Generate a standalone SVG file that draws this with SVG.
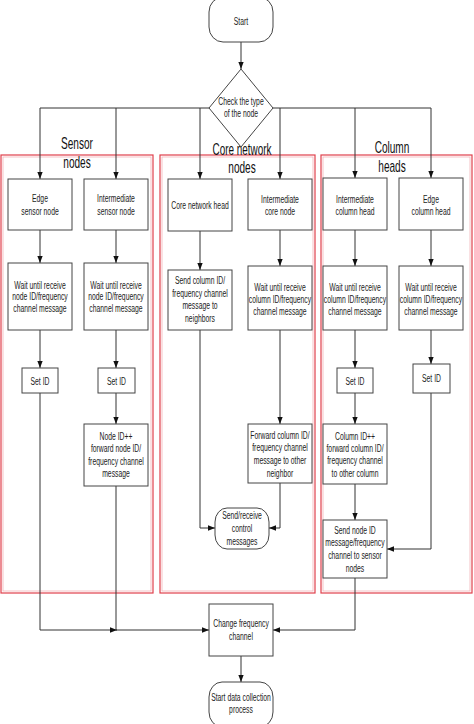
<svg xmlns="http://www.w3.org/2000/svg" width="474" height="724" viewBox="0 0 474 724">
<defs>
<marker id="ah" viewBox="0 0 10 10" refX="10" refY="5" markerWidth="7" markerHeight="7" markerUnits="userSpaceOnUse" orient="auto"><path d="M0,1.2 L10,5 L0,8.8 z" fill="#111"/></marker>
</defs>
<style>
.bg{fill:#fff}
.c{fill:none;stroke:#333;stroke-width:1}
.a{marker-end:url(#ah)}
.b{fill:#fff;stroke:#444;stroke-width:1}
.r{fill:none;stroke:#e0404c;stroke-width:1.2}
.r2{fill:none;stroke:#f3b3b8;stroke-width:0.8}
.t{font-family:"Liberation Sans",Arial,sans-serif;font-size:10px;text-anchor:middle;fill:#222}
.h{font-family:"Liberation Sans",Arial,sans-serif;font-size:16px;text-anchor:middle;fill:#111}
</style>
<rect class="bg" width="474" height="724"/>
<g id="groups">
<rect class="r" x="1" y="155" width="152" height="438"/>
<rect class="r2" x="3" y="157" width="148" height="434"/>
<rect class="r" x="160" y="155" width="155" height="438"/>
<rect class="r2" x="162" y="157" width="151" height="434"/>
<rect class="r" x="321" y="155" width="151" height="438"/>
<rect class="r2" x="323" y="157" width="147" height="434"/>
</g>
<g id="connectors">
<path class="c a" d="M241,42 V69"/>
<path class="c" d="M40,108 H431"/>
<path class="c a" d="M40,108 V179"/>
<path class="c a" d="M116,108 V179"/>
<path class="c a" d="M200,108 V179"/>
<path class="c a" d="M280,108 V179"/>
<path class="c a" d="M355,108 V178"/>
<path class="c a" d="M431,108 V178"/>
<path class="c a" d="M40,230 V263"/>
<path class="c a" d="M116,230 V263"/>
<path class="c a" d="M200,231 V270"/>
<path class="c a" d="M280,230 V266"/>
<path class="c a" d="M355,230 V266"/>
<path class="c a" d="M431,230 V266"/>
<path class="c a" d="M40,330 V368"/>
<path class="c a" d="M116,330 V368"/>
<path class="c a" d="M355,330 V368"/>
<path class="c a" d="M431,330 V364"/>
<path class="c a" d="M116,393 V424"/>
<path class="c a" d="M280,330 V424"/>
<path class="c a" d="M355,393 V424"/>
<path class="c a" d="M355,484 V520"/>
<path class="c a" d="M200,330 V528 H215"/>
<path class="c a" d="M280,483 V528 H269"/>
<path class="c a" d="M431,393 V549 H387"/>
<path class="c a" d="M40,393 V630 H117"/>
<path class="c a" d="M116,486 V630 H209"/>
<path class="c a" d="M355,578 V630 H273"/>
<path class="c a" d="M241,656 V682"/>
</g>
<g id="titles">
<text class="h" transform="translate(77,149) scale(0.63,1)">Sensor</text>
<text class="h" transform="translate(77,168) scale(0.63,1)">nodes</text>
<text class="h" transform="translate(242,155) scale(0.62,1)">Core network</text>
<text class="h" transform="translate(242,173) scale(0.63,1)">nodes</text>
<text class="h" transform="translate(392,153) scale(0.63,1)">Column</text>
<text class="h" transform="translate(392,172) scale(0.63,1)">heads</text>
</g>
<g id="start">
<rect class="b" x="209" y="-3" width="64" height="45" rx="14" ry="15"/>
<text class="t" transform="translate(241,24.5) scale(0.68,1)">Start</text>
</g>
<g id="check">
<path class="b" d="M241,69 L273,108 L241,147 L209,108 Z"/>
<text class="t" transform="translate(241,105) scale(0.68,1)"><tspan x="0">Check the type</tspan><tspan x="0" dy="12.5">of the node</tspan></text>
</g>
<g id="edge-sensor">
<rect class="b" x="8" y="179" width="64" height="51"/>
<text class="t" transform="translate(40,201.5) scale(0.68,1)"><tspan x="0">Edge</tspan><tspan x="0" dy="14">sensor node</tspan></text>
</g>
<g id="inter-sensor">
<rect class="b" x="84" y="179" width="64" height="51"/>
<text class="t" transform="translate(116,201.5) scale(0.68,1)"><tspan x="0">Intermediate</tspan><tspan x="0" dy="14">sensor node</tspan></text>
</g>
<g id="wait-edge-sensor">
<rect class="b" x="8" y="263" width="64" height="67"/>
<text class="t" transform="translate(40,288.5) scale(0.68,1)"><tspan x="0">Wait until receive</tspan><tspan x="0" dy="12">node ID/frequency</tspan><tspan x="0" dy="12">channel  message</tspan></text>
</g>
<g id="wait-inter-sensor">
<rect class="b" x="84" y="263" width="64" height="67"/>
<text class="t" transform="translate(116,288.5) scale(0.68,1)"><tspan x="0">Wait until receive</tspan><tspan x="0" dy="12">node ID/frequency</tspan><tspan x="0" dy="12">channel  message</tspan></text>
</g>
<g id="setid-edge-sensor">
<rect class="b" x="22" y="368" width="36" height="25"/>
<text class="t" transform="translate(40,384.5) scale(0.68,1)">Set ID</text>
</g>
<g id="setid-inter-sensor">
<rect class="b" x="98" y="368" width="37" height="25"/>
<text class="t" transform="translate(116.5,384.5) scale(0.68,1)">Set ID</text>
</g>
<g id="nodeid-pp">
<rect class="b" x="84" y="424" width="64" height="62"/>
<text class="t" transform="translate(116,440) scale(0.68,1)"><tspan x="0">Node ID++</tspan><tspan x="0" dy="12.5">forward node ID/</tspan><tspan x="0" dy="12.5">frequency channel</tspan><tspan x="0" dy="12.5">message</tspan></text>
</g>
<g id="core-head">
<rect class="b" x="168" y="179" width="64" height="52"/>
<text class="t" transform="translate(200,208.5) scale(0.68,1)">Core network head</text>
</g>
<g id="inter-core">
<rect class="b" x="248" y="179" width="64" height="51"/>
<text class="t" transform="translate(280,202.5) scale(0.68,1)"><tspan x="0">Intermediate</tspan><tspan x="0" dy="13">core  node</tspan></text>
</g>
<g id="send-column">
<rect class="b" x="168" y="270" width="64" height="60"/>
<text class="t" transform="translate(200,284) scale(0.68,1)"><tspan x="0">Send column  ID/</tspan><tspan x="0" dy="13">frequency channel</tspan><tspan x="0" dy="12.5">message to</tspan><tspan x="0" dy="12.5">neighbors</tspan></text>
</g>
<g id="wait-core">
<rect class="b" x="248" y="266" width="64" height="64"/>
<text class="t" transform="translate(280,290.5) scale(0.68,1)"><tspan x="0">Wait until receive</tspan><tspan x="0" dy="12.5">column ID/frequency</tspan><tspan x="0" dy="12.5">channel message</tspan></text>
</g>
<g id="forward-core">
<rect class="b" x="248" y="424" width="64" height="59"/>
<text class="t" transform="translate(280,438.5) scale(0.68,1)"><tspan x="0">Forward column ID/</tspan><tspan x="0" dy="12.7">frequency channel</tspan><tspan x="0" dy="12.7">message to other</tspan><tspan x="0" dy="12.7">neighbor</tspan></text>
</g>
<g id="sendrecv">
<rect class="b" x="215" y="508" width="54" height="41" rx="12" ry="14"/>
<text class="t" transform="translate(242,518.5) scale(0.68,1)"><tspan x="0">Send/receive</tspan><tspan x="0" dy="13.5">control</tspan><tspan x="0" dy="13.5">messages</tspan></text>
</g>
<g id="inter-column">
<rect class="b" x="323" y="178" width="64" height="52"/>
<text class="t" transform="translate(355,202.5) scale(0.68,1)"><tspan x="0">Intermediate</tspan><tspan x="0" dy="13">column head</tspan></text>
</g>
<g id="edge-column">
<rect class="b" x="399" y="178" width="64" height="52"/>
<text class="t" transform="translate(431,202.5) scale(0.68,1)"><tspan x="0">Edge</tspan><tspan x="0" dy="13">column head</tspan></text>
</g>
<g id="wait-inter-column">
<rect class="b" x="323" y="266" width="64" height="64"/>
<text class="t" transform="translate(355,290.5) scale(0.68,1)"><tspan x="0">Wait until receive</tspan><tspan x="0" dy="12.5">column ID/frequency</tspan><tspan x="0" dy="12.5">channel message</tspan></text>
</g>
<g id="wait-edge-column">
<rect class="b" x="399" y="266" width="64" height="64"/>
<text class="t" transform="translate(431,290.5) scale(0.68,1)"><tspan x="0">Wait until receive</tspan><tspan x="0" dy="12.5">column ID/frequency</tspan><tspan x="0" dy="12.5">channel message</tspan></text>
</g>
<g id="setid-inter-column">
<rect class="b" x="337" y="368" width="36" height="25"/>
<text class="t" transform="translate(355,384.5) scale(0.68,1)">Set ID</text>
</g>
<g id="setid-edge-column">
<rect class="b" x="413" y="364" width="37" height="29"/>
<text class="t" transform="translate(431.5,381.5) scale(0.68,1)">Set ID</text>
</g>
<g id="columnid-pp">
<rect class="b" x="323" y="424" width="64" height="60"/>
<text class="t" transform="translate(355,439.5) scale(0.68,1)"><tspan x="0">Column ID++</tspan><tspan x="0" dy="12.5">forward column ID/</tspan><tspan x="0" dy="12.5">frequency channel</tspan><tspan x="0" dy="12.5">to other column</tspan></text>
</g>
<g id="send-nodeid">
<rect class="b" x="323" y="520" width="64" height="58"/>
<text class="t" transform="translate(355,533.5) scale(0.68,1)"><tspan x="0">Send node ID</tspan><tspan x="0" dy="12.7">message/frequency</tspan><tspan x="0" dy="12.7">channel to sensor</tspan><tspan x="0" dy="12.7">nodes</tspan></text>
</g>
<g id="change-freq">
<rect class="b" x="209" y="604" width="64" height="52"/>
<text class="t" transform="translate(241,626.5) scale(0.68,1)"><tspan x="0">Change frequency</tspan><tspan x="0" dy="13.5">channel</tspan></text>
</g>
<g id="start-collection">
<rect class="b" x="209" y="682" width="64" height="45" rx="13" ry="15"/>
<text class="t" transform="translate(241,700.5) scale(0.68,1)"><tspan x="0">Start data collection</tspan><tspan x="0" dy="12.5">process</tspan></text>
</g>
</svg>
